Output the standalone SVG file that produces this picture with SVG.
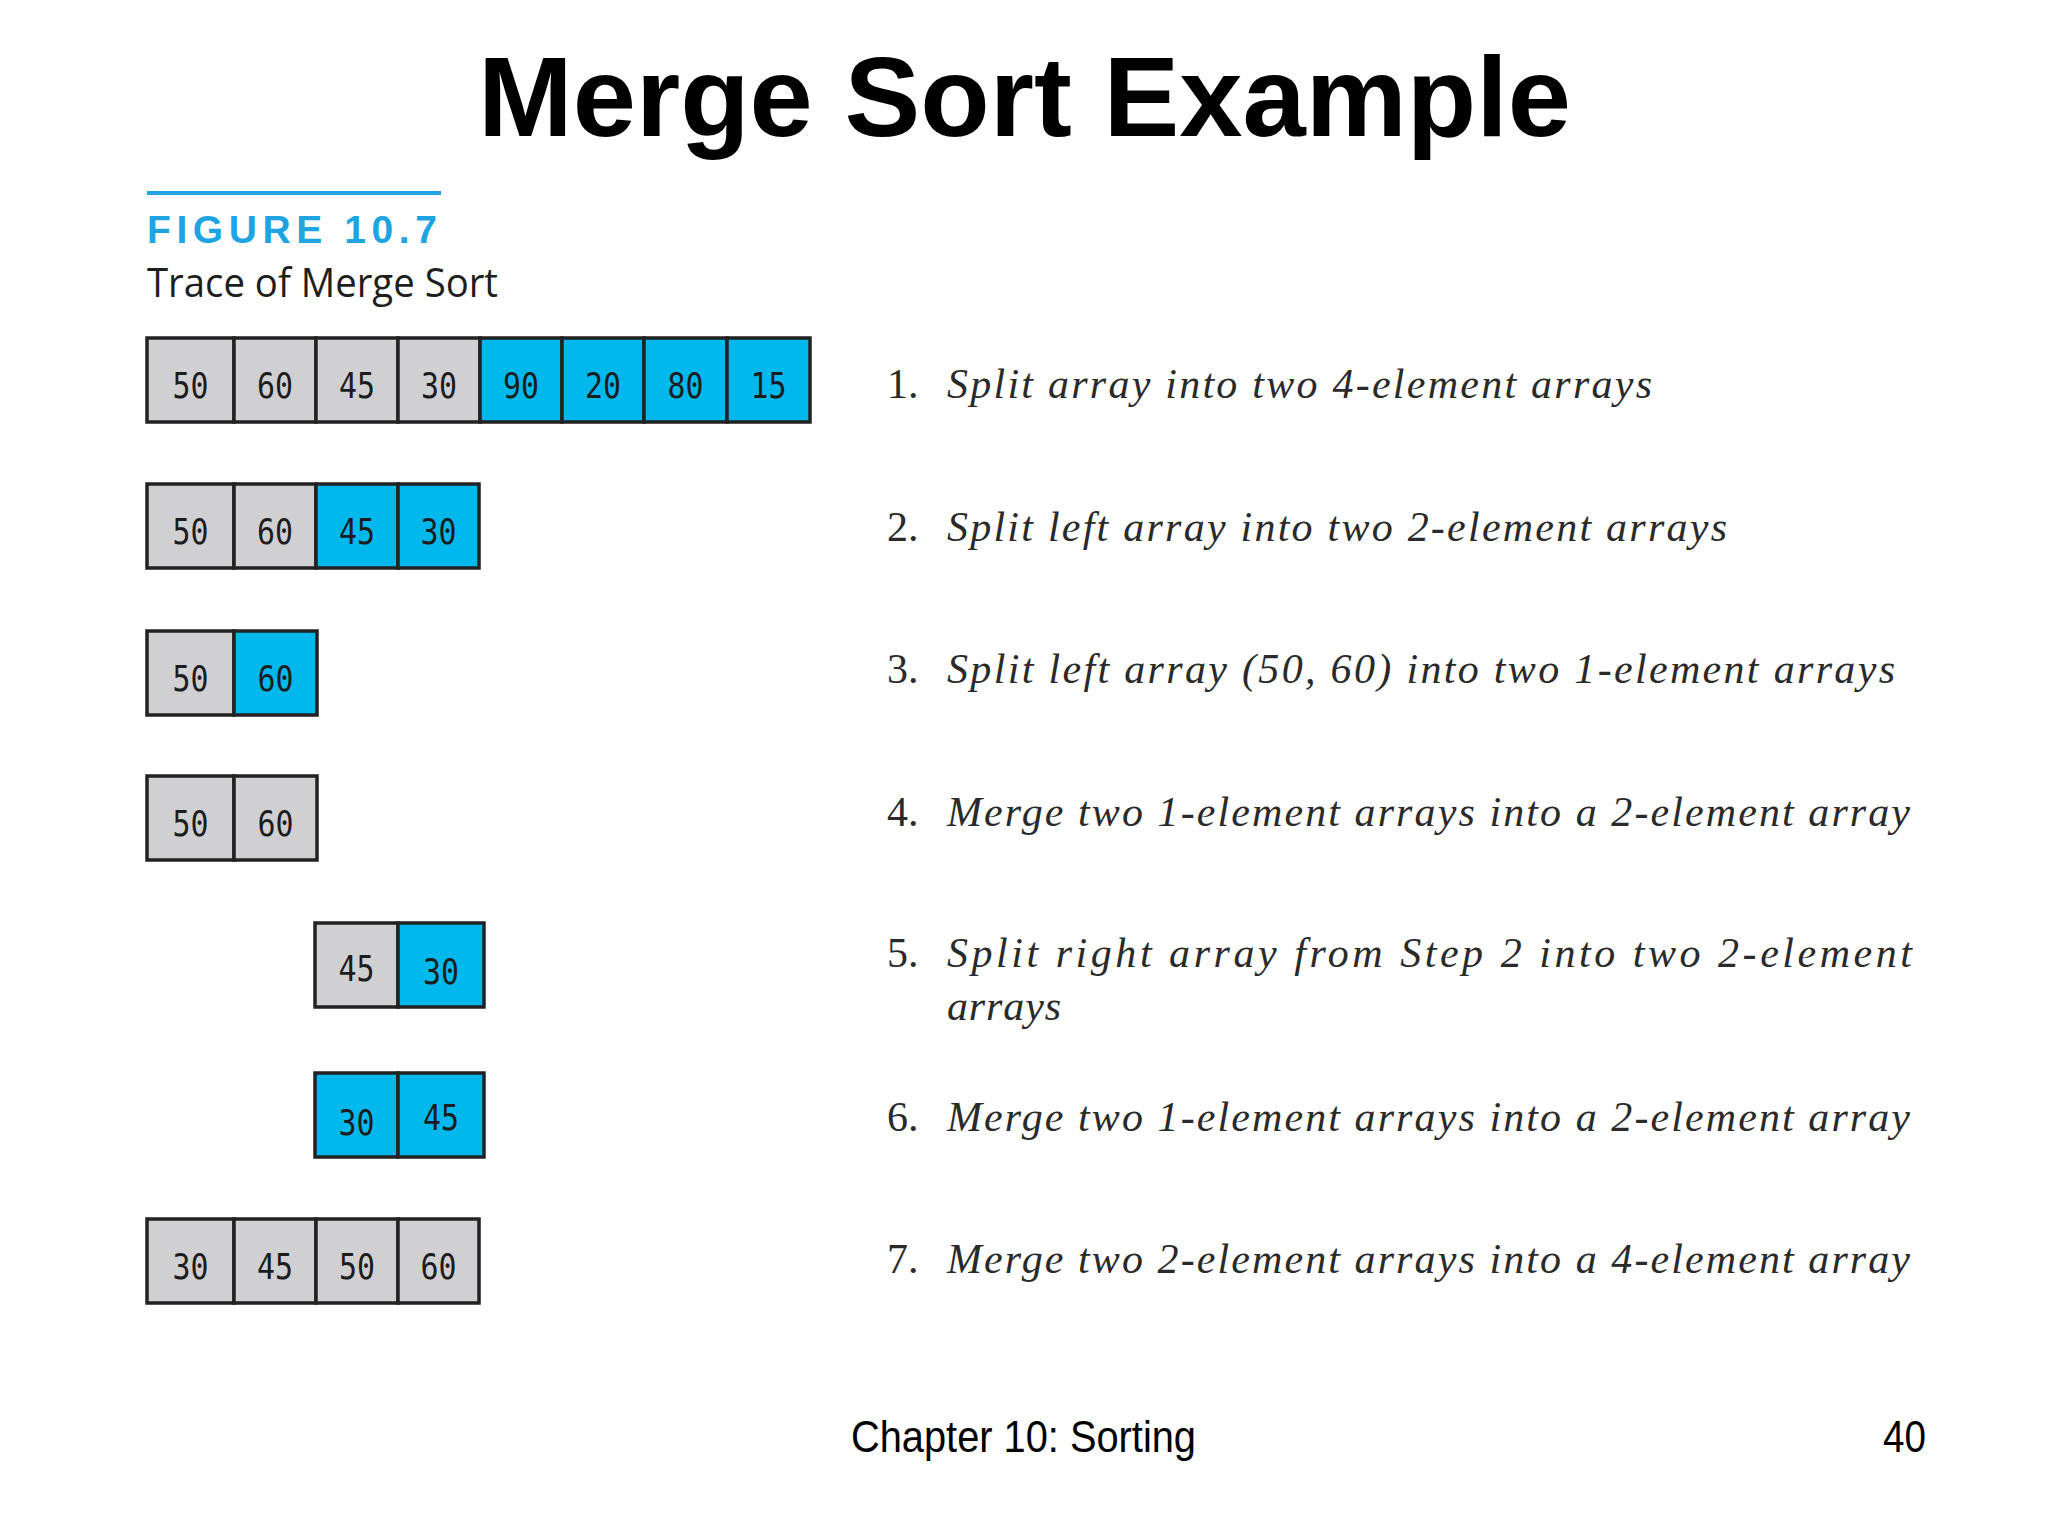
<svg xmlns="http://www.w3.org/2000/svg" width="2048" height="1536" viewBox="0 0 2048 1536">
<style>
.title{font-family:"Liberation Sans",Arial,sans-serif;font-weight:bold;font-size:114px;fill:#000}
.fig{font-family:"Liberation Sans",Arial,sans-serif;font-weight:bold;font-size:39px;fill:#1ea4e2}
.cap{font-family:"Open Sans","Liberation Sans",sans-serif;font-size:40px;fill:#1e1e1e}
.g{fill:#d0d0d2;stroke:#222;stroke-width:3.5}
.c{fill:#00b8ec;stroke:#222;stroke-width:3.5}
.d{font-family:"DejaVu Sans Mono","Liberation Mono",monospace;font-size:36px;fill:#1c1c1c;text-anchor:middle}
.n{font-family:"Liberation Serif","Times New Roman",serif;font-size:42px;fill:#2a2a2a}
.s{font-family:"Liberation Serif","Times New Roman",serif;font-style:italic;font-size:42px;fill:#2a2a2a}
.foot{font-family:"Liberation Sans",Arial,sans-serif;font-size:44px;fill:#000}
</style>
<rect x="0" y="0" width="2048" height="1536" fill="#ffffff"/>
<g id="title"><text class="title" x="478" y="136" textLength="1093" lengthAdjust="spacingAndGlyphs">Merge Sort Example</text></g>
<g id="figure-caption">
<line x1="147" y1="193" x2="441" y2="193" stroke="#1ea4e2" stroke-width="4"/>
<text class="fig" x="147" y="243" textLength="290" lengthAdjust="spacing">FIGURE 10.7</text>
<text class="cap" x="147" y="297" textLength="351" lengthAdjust="spacingAndGlyphs">Trace of Merge Sort</text>
</g>
<g id="row1">
<rect class="g" x="147" y="338" width="87" height="84"/><text class="d" x="190.5" y="398" textLength="36" lengthAdjust="spacingAndGlyphs">50</text>
<rect class="g" x="234" y="338" width="82" height="84"/><text class="d" x="275" y="398" textLength="36" lengthAdjust="spacingAndGlyphs">60</text>
<rect class="g" x="316" y="338" width="82" height="84"/><text class="d" x="357" y="398" textLength="36" lengthAdjust="spacingAndGlyphs">45</text>
<rect class="g" x="398" y="338" width="82" height="84"/><text class="d" x="439" y="398" textLength="36" lengthAdjust="spacingAndGlyphs">30</text>
<rect class="c" x="480" y="338" width="82" height="84"/><text class="d" x="521" y="398" textLength="36" lengthAdjust="spacingAndGlyphs">90</text>
<rect class="c" x="562" y="338" width="82" height="84"/><text class="d" x="603" y="398" textLength="36" lengthAdjust="spacingAndGlyphs">20</text>
<rect class="c" x="644" y="338" width="83" height="84"/><text class="d" x="685.5" y="398" textLength="36" lengthAdjust="spacingAndGlyphs">80</text>
<rect class="c" x="727" y="338" width="83" height="84"/><text class="d" x="768.5" y="398" textLength="36" lengthAdjust="spacingAndGlyphs">15</text>
</g>
<g id="row2">
<rect class="g" x="147" y="484" width="87" height="84"/><text class="d" x="190.5" y="544" textLength="36" lengthAdjust="spacingAndGlyphs">50</text>
<rect class="g" x="234" y="484" width="82" height="84"/><text class="d" x="275" y="544" textLength="36" lengthAdjust="spacingAndGlyphs">60</text>
<rect class="c" x="316" y="484" width="82" height="84"/><text class="d" x="357" y="544" textLength="36" lengthAdjust="spacingAndGlyphs">45</text>
<rect class="c" x="398" y="484" width="81" height="84"/><text class="d" x="438.5" y="544" textLength="36" lengthAdjust="spacingAndGlyphs">30</text>
</g>
<g id="row3">
<rect class="g" x="147" y="631" width="87" height="84"/><text class="d" x="190.5" y="691" textLength="36" lengthAdjust="spacingAndGlyphs">50</text>
<rect class="c" x="234" y="631" width="83" height="84"/><text class="d" x="275.5" y="691" textLength="36" lengthAdjust="spacingAndGlyphs">60</text>
</g>
<g id="row4">
<rect class="g" x="147" y="776" width="87" height="84"/><text class="d" x="190.5" y="836" textLength="36" lengthAdjust="spacingAndGlyphs">50</text>
<rect class="g" x="234" y="776" width="83" height="84"/><text class="d" x="275.5" y="836" textLength="36" lengthAdjust="spacingAndGlyphs">60</text>
</g>
<g id="row5">
<rect class="g" x="315" y="923" width="83" height="84"/><text class="d" x="356.5" y="981" textLength="36" lengthAdjust="spacingAndGlyphs">45</text>
<rect class="c" x="398" y="923" width="86" height="84"/><text class="d" x="441" y="984" textLength="36" lengthAdjust="spacingAndGlyphs">30</text>
</g>
<g id="row6">
<rect class="c" x="315" y="1073" width="83" height="84"/><text class="d" x="356.5" y="1135" textLength="36" lengthAdjust="spacingAndGlyphs">30</text>
<rect class="c" x="398" y="1073" width="86" height="84"/><text class="d" x="441" y="1130" textLength="36" lengthAdjust="spacingAndGlyphs">45</text>
</g>
<g id="row7">
<rect class="g" x="147" y="1219" width="87" height="84"/><text class="d" x="190.5" y="1279" textLength="36" lengthAdjust="spacingAndGlyphs">30</text>
<rect class="g" x="234" y="1219" width="82" height="84"/><text class="d" x="275" y="1279" textLength="36" lengthAdjust="spacingAndGlyphs">45</text>
<rect class="g" x="316" y="1219" width="82" height="84"/><text class="d" x="357" y="1279" textLength="36" lengthAdjust="spacingAndGlyphs">50</text>
<rect class="g" x="398" y="1219" width="81" height="84"/><text class="d" x="438.5" y="1279" textLength="36" lengthAdjust="spacingAndGlyphs">60</text>
</g>
<g id="steps">
<g id="step1"><text class="n" x="887" y="398">1.</text><text class="s" x="947" y="398" textLength="705" lengthAdjust="spacing">Split array into two 4-element arrays</text></g>
<g id="step2"><text class="n" x="887" y="541">2.</text><text class="s" x="947" y="541" textLength="780" lengthAdjust="spacing">Split left array into two 2-element arrays</text></g>
<g id="step3"><text class="n" x="887" y="683">3.</text><text class="s" x="947" y="683" textLength="948" lengthAdjust="spacing">Split left array (50, 60) into two 1-element arrays</text></g>
<g id="step4"><text class="n" x="887" y="826">4.</text><text class="s" x="947" y="826" textLength="963" lengthAdjust="spacing">Merge two 1-element arrays into a 2-element array</text></g>
<g id="step5"><text class="n" x="887" y="967">5.</text><text class="s" x="947" y="967" textLength="965" lengthAdjust="spacing">Split right array from Step 2 into two 2-element</text><text class="s" x="947" y="1020" textLength="114" lengthAdjust="spacing">arrays</text></g>
<g id="step6"><text class="n" x="887" y="1131">6.</text><text class="s" x="947" y="1131" textLength="963" lengthAdjust="spacing">Merge two 1-element arrays into a 2-element array</text></g>
<g id="step7"><text class="n" x="887" y="1273">7.</text><text class="s" x="947" y="1273" textLength="963" lengthAdjust="spacing">Merge two 2-element arrays into a 4-element array</text></g>
</g>
<g id="footer">
<text class="foot" x="851" y="1452" textLength="345" lengthAdjust="spacingAndGlyphs">Chapter 10: Sorting</text>
<text class="foot" x="1883" y="1452" textLength="43" lengthAdjust="spacingAndGlyphs">40</text>
</g>
</svg>
